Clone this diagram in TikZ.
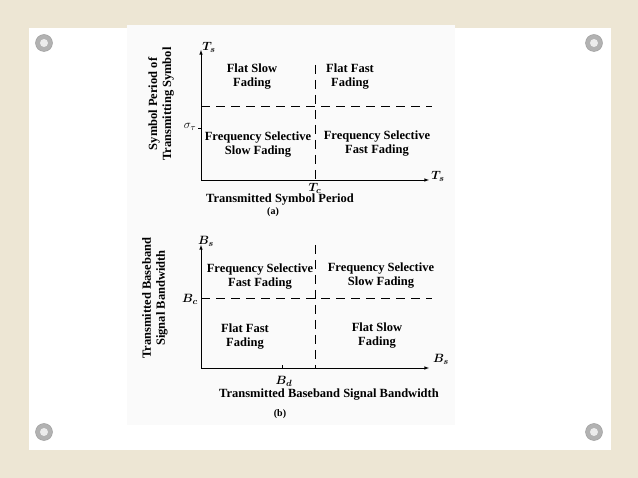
\documentclass[tikz,border=0pt]{standalone}
\usepackage{amsmath,bm}
\usepackage{fontspec}
\setmainfont{Liberation Serif}
\begin{document}
\begin{tikzpicture}[x=1pt,y=-1pt,
  lbl/.style={font=\bfseries\fontsize{12.5}{14}\selectfont,align=center,inner sep=1pt},
  ax/.style={line width=0.6pt,-latex},
  dsh/.style={line width=0.6pt,dash pattern=on 9pt off 6pt},
  pin/.style={circle,minimum size=17pt,fill=gray!60,draw=gray!80,inner sep=0pt}]
\useasboundingbox (0,0) rectangle (638,478);
\fill[fill={rgb,255:red,237;green,230;blue,212}] (0,0) rectangle (638,478);
\fill[white] (29,28) rectangle (611,450);
\fill[gray!4] (127,25) rectangle (455,425);
\foreach \n/\x/\y in {p1/44/43,p2/594/43,p3/44/432,p4/594/432}{
  \node[pin] (\n) at (\x,\y) {};
  \node[circle,minimum size=8pt,fill=gray!15,inner sep=0pt] at (\n) {};}
% (a)
\coordinate (oa) at (201,180);
\coordinate (ya) at (201,50);
\coordinate (xa) at (429,180);
\draw[ax] (oa) -- (ya);
\draw[ax] (oa) -- (xa);
\coordinate (va1) at (315,65); \coordinate (va2) at (315,180);
\draw[dsh] (va1) -- (va2);
\coordinate (ha1) at (201,106); \coordinate (ha2) at (432,106);
\draw[dsh] (ha1) -- (ha2);
\coordinate (st) at (201,128);
\draw (st) -- ++(-3,0);
\node[lbl] (sig) at (190,127) {$\sigma_\tau$};
\node[lbl] (tsy) at (209,47) {$\bm{T_s}$};
\node[lbl] (tsx) at (438,176) {$\bm{T_s}$};
\node[lbl] (tc) at (315,188) {$\bm{T_c}$};
\node[lbl] (r1) at (252,77) {Flat Slow\\Fading};
\node[lbl] (r2) at (350,77) {Flat Fast\\Fading};
\node[lbl] (r3) at (258,145) {Frequency Selective\\Slow Fading};
\node[lbl] (r4) at (377,144) {Frequency Selective\\Fast Fading};
\node[lbl] (xla) at (280,200) {Transmitted Symbol Period};
\node[lbl,font=\fontsize{10}{12}\selectfont\bfseries] (ca) at (273,212) {(a)};
\node[lbl,rotate=90] (yla) at (161,104) {Symbol Period of\\Transmitting Symbol};
% (b)
\coordinate (ob) at (201,368);
\coordinate (yb) at (201,245);
\coordinate (xb) at (429,368);
\draw[ax] (ob) -- (yb);
\draw[ax] (ob) -- (xb);
\coordinate (vb1) at (315,245); \coordinate (vb2) at (315,368);
\draw[dsh] (vb1) -- (vb2);
\coordinate (hb1) at (201,298); \coordinate (hb2) at (432,298);
\draw[dsh] (hb1) -- (hb2);
\coordinate (bdt) at (282,368);
\draw (bdt) -- ++(0,-3);
\node[lbl] (bsy) at (206,241) {$\bm{B_s}$};
\node[lbl] (bsx) at (441,359) {$\bm{B_s}$};
\node[lbl] (bc) at (190,299) {$\bm{B_c}$};
\node[lbl] (bd) at (284,381) {$\bm{B_d}$};
\node[lbl] (s1) at (260,277) {Frequency Selective\\Fast Fading};
\node[lbl] (s2) at (381,276) {Frequency Selective\\Slow Fading};
\node[lbl] (s3) at (245,337) {Flat Fast\\Fading};
\node[lbl] (s4) at (377,336) {Flat Slow\\Fading};
\node[lbl] (xlb) at (329,395) {Transmitted Baseband Signal Bandwidth};
\node[lbl,font=\fontsize{10}{12}\selectfont\bfseries] (cb) at (280,414) {(b)};
\node[lbl,rotate=90] (ylb) at (155,298) {Transmitted Baseband\\Signal Bandwidth};
\end{tikzpicture}
\end{document}
